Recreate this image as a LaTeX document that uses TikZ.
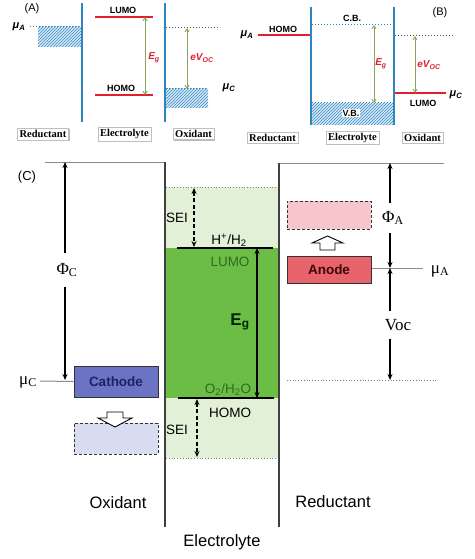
\documentclass[tikz,border=0pt]{standalone}
\usepackage{fontspec}
\setmainfont{Liberation Serif}
\setsansfont{Liberation Sans}
\usetikzlibrary{arrows.meta,patterns,shadows}
\definecolor{bluel}{HTML}{2E86C1}
\definecolor{redl}{HTML}{E02030}
\definecolor{garr}{HTML}{8CA35A}
\definecolor{hatchc}{HTML}{3A8CC8}
\definecolor{hatchbg}{HTML}{D6E8F5}
\definecolor{lgreen}{HTML}{E2F0D8}
\definecolor{dgreen}{HTML}{6CBD45}
\definecolor{tgreen}{HTML}{2F6B1E}
\definecolor{cathf}{HTML}{6B73C4}
\definecolor{cathdl}{HTML}{D7DCF0}
\definecolor{cathtx}{HTML}{1C2266}
\definecolor{anodf}{HTML}{E8636C}
\definecolor{anoddl}{HTML}{F7C6CD}
\definecolor{anodtx}{HTML}{3A0A0A}
\definecolor{linegray}{HTML}{8A8A8A}
\definecolor{dkgray}{HTML}{404040}
\begin{document}
\begin{tikzpicture}[x=1pt,y=-1pt,
  bline/.style={draw=bluel, line width=1.3pt},
  rline/.style={draw=redl, line width=1.3pt},
  garrow/.style={draw=garr, line width=0.9pt, {Straight Barb[length=3pt,width=4pt]}-{Straight Barb[length=3pt,width=4pt]}},
  bdot/.style={draw=bluel, dotted, line width=1pt},
  kdot/.style={draw=black!70, dotted, line width=1pt},
  boxlab/.style={draw=gray!50, fill=white, font=\bfseries\fontsize{10.5}{12}\selectfont, inner sep=2pt,
     drop shadow={shadow xshift=1.2pt, shadow yshift=-1.2pt, fill=gray!55, opacity=1}},
  orblab/.style={font=\sffamily\bfseries\fontsize{9}{10}\selectfont, inner sep=0.5pt},
  redit/.style={text=redl, font=\sffamily\bfseries\itshape\fontsize{10}{11}\selectfont},
  mulab/.style={font=\sffamily\bfseries\itshape\fontsize{11}{12}\selectfont},
  ctext/.style={font=\sffamily\fontsize{16.5}{18}\selectfont},
  stext/.style={font=\sffamily\fontsize{13.5}{15}\selectfont, inner sep=0.5pt},
  gsym/.style={font=\fontsize{17}{19}\selectfont, inner sep=1pt},
  karrow/.style={line width=1.1pt, {Stealth[length=6pt,width=5pt]}-{Stealth[length=6pt,width=5pt]}},
  sarrow/.style={line width=1.3pt, dash pattern=on 4pt off 2.5pt, {Stealth[length=6pt,width=5pt]}-{Stealth[length=6pt,width=5pt]}},
  solidbox/.style={draw=black!80, line width=1pt, minimum width=84pt, inner sep=0pt, font=\sffamily\bfseries\fontsize{13.5}{15}\selectfont},
  dashbox/.style={draw=black!80, line width=1pt, dash pattern=on 3pt off 2pt, minimum width=84pt, inner sep=0pt},
  hollow/.style={draw=black, line width=0.9pt, fill=white}
]
\useasboundingbox (0,0) rectangle (474,559);

% ================= Panel A =================
\node[font=\sffamily\fontsize{11}{12}\selectfont] (labA) at (32,9) {(A)};
\fill[hatchbg] (38,27) rectangle (82,47);
\fill[pattern=north east lines, pattern color=hatchc] (38,27) rectangle (82,47);
\coordinate (aDotL) at (30,27);
\coordinate (aDotR) at (82,27);
\draw[bdot] (aDotL) -- (aDotR);
\node[mulab] (muAa) at (19,27) {μ\textsubscript{A}};
\coordinate (aV1t) at (82,3); \coordinate (aV1b) at (82,122);
\coordinate (aV2t) at (165,3); \coordinate (aV2b) at (165,122);
\draw[bline] (aV1t) -- (aV1b);
\draw[bline] (aV2t) -- (aV2b);
\coordinate (aLl) at (95,17); \coordinate (aLr) at (153,17);
\coordinate (aHl) at (95,95); \coordinate (aHr) at (153,95);
\draw[rline] (aLl) -- (aLr);
\draw[rline] (aHl) -- (aHr);
\node[orblab] (aLUMO) at (123,10) {LUMO};
\node[orblab] (aHOMO) at (121,88.5) {HOMO};
\coordinate (aEgT) at (145,17); \coordinate (aEgB) at (145,95);
\draw[garrow] (aEgT) -- (aEgB);
\node[redit] (aEg) at (154,58) {E\textsubscript{g}};
\coordinate (aOxL) at (166,28); \coordinate (aOxR) at (220,28);
\draw[kdot] (aOxL) -- (aOxR);
\fill[hatchbg] (166,89) rectangle (208,108);
\fill[pattern=north east lines, pattern color=hatchc] (166,89) rectangle (208,108);
\coordinate (aCl) at (166,89); \coordinate (aCr) at (208,89);
\draw[bdot] (aCl) -- (aCr);
\coordinate (aVt) at (187,28); \coordinate (aVb) at (187,89);
\draw[garrow] (aVt) -- (aVb);
\node[redit] (aeV) at (202,58) {eV\textsubscript{OC}};
\node[mulab] (muCa) at (229,88) {μ\textsubscript{C}};
\node[boxlab] (aRed) at (43,134) {Reductant};
\node[boxlab] (aEle) at (124.5,134) {Electrolyte};
\node[boxlab] (aOxi) at (193.5,134) {Oxidant};

% ================= Panel B =================
\node[font=\sffamily\fontsize{11}{12}\selectfont] (labB) at (440,13) {(B)};
\node[mulab] (muAb) at (247,35) {μ\textsubscript{A}};
\coordinate (bHl) at (258,35); \coordinate (bHr) at (311,35);
\draw[rline] (bHl) -- (bHr);
\node[orblab] (bHOMO) at (283,29) {HOMO};
\fill[hatchbg] (312,103) rectangle (393,125);
\fill[pattern=north east lines, pattern color=hatchc] (312,103) rectangle (393,125);
\coordinate (bCBl) at (312,25); \coordinate (bCBr) at (393,25);
\coordinate (bVBl) at (312,103); \coordinate (bVBr) at (393,103);
\draw[bdot] (bCBl) -- (bCBr);
\draw[bdot] (bVBl) -- (bVBr);
\coordinate (bV1t) at (311,7); \coordinate (bV1b) at (311,125);
\coordinate (bV2t) at (394,7); \coordinate (bV2b) at (394,125);
\draw[bline] (bV1t) -- (bV1b);
\draw[bline] (bV2t) -- (bV2b);
\node[orblab] (bCB) at (352,18) {C.B.};
\node[orblab, fill=white, inner sep=1pt] (bVB) at (351,113) {V.B.};
\coordinate (bEgT) at (374,25); \coordinate (bEgB) at (374,103);
\draw[garrow] (bEgT) -- (bEgB);
\node[redit] (bEg) at (381,64) {E\textsubscript{g}};
\coordinate (bOxL) at (395,36); \coordinate (bOxR) at (455,36);
\draw[kdot] (bOxL) -- (bOxR);
\coordinate (bLl) at (395,93); \coordinate (bLr) at (446,93);
\draw[rline] (bLl) -- (bLr);
\coordinate (bVt) at (415,36); \coordinate (bVb) at (415,93);
\draw[garrow] (bVt) -- (bVb);
\node[redit] (beV) at (429,65) {eV\textsubscript{OC}};
\node[orblab] (bLUMO) at (423,103) {LUMO};
\node[mulab] (muCb) at (456,95) {μ\textsubscript{C}};
\node[boxlab] (bRed) at (272.5,137.5) {Reductant};
\node[boxlab] (bEle) at (352.5,137.5) {Electrolyte};
\node[boxlab] (bOxi) at (422.5,137.5) {Oxidant};

% ================= Panel C =================
\node[font=\sffamily\fontsize{13}{14}\selectfont] (labC) at (27,177) {(C)};
% electrolyte bands
\fill[lgreen] (165,187) rectangle (279,458);
\fill[dgreen] (165,248) rectangle (279,398);
\coordinate (eTopL) at (166,187); \coordinate (eTopR) at (278,187);
\coordinate (eBotL) at (166,458); \coordinate (eBotR) at (278,458);
\draw[draw=gray, dotted, line width=0.8pt] (eTopL) -- (eTopR);
\draw[draw=gray, dotted, line width=0.8pt] (eBotL) -- (eBotR);
% boundary lines
\coordinate (topL) at (45,162); \coordinate (cornL) at (165,162); \coordinate (botL) at (165,527);
\coordinate (cornR) at (279,163); \coordinate (topR) at (444,163); \coordinate (botR) at (279,527);
\draw[draw=linegray, line width=1pt] (topL) -- (cornL);
\draw[draw=linegray, line width=1pt] (cornR) -- (topR);
\draw[draw=dkgray, line width=1.1pt] (cornL) -- (botL);
\draw[draw=dkgray, line width=1.1pt] (cornR) -- (botR);
% redox levels
\coordinate (hL) at (177,248); \coordinate (hR) at (273,248);
\coordinate (oL) at (178,398); \coordinate (oR) at (274,398);
\draw[line width=1.2pt] (hL) -- (hR);
\draw[line width=1.2pt] (oL) -- (oR);
\node[stext] (hh) at (229,240) {H\textsuperscript{+}/H\textsubscript{2}};
\node[stext, text=tgreen] (lumo) at (230,262) {LUMO};
\node[stext, text=tgreen] (o2) at (228,390) {O\textsubscript{2}/H\textsubscript{2}O};
\node[stext] (homo) at (230,413) {HOMO};
% SEI arrows
\coordinate (s1t) at (194,188); \coordinate (s1b) at (194,247);
\coordinate (s2t) at (197,399); \coordinate (s2b) at (197,457);
\draw[sarrow] (s1t) -- (s1b);
\draw[sarrow] (s2t) -- (s2b);
\node[stext] (sei1) at (177,218) {SEI};
\node[stext] (sei2) at (177,430) {SEI};
% Eg arrow
\coordinate (egT) at (257,248); \coordinate (egB) at (257,398);
\draw[karrow] (egT) -- (egB);
\node[font=\sffamily\bfseries\fontsize{17}{19}\selectfont, text=black!85!green] (eg) at (240,322) {E\textsubscript{g}};
% cathode side
\node[solidbox, fill=cathf, text=cathtx, minimum height=31pt] (cath) at (116,381.5) {Cathode};
\node[dashbox, fill=cathdl, minimum height=31pt] (cathd) at (116,438.5) {};
\draw[hollow] (107,412) -- (123,412) -- (123,418) -- (132,418) -- (115,427) -- (98,418) -- (107,418) -- cycle;
\node[gsym] (muC) at (28,382) {μ\textsubscript{C}};
\coordinate (muCl) at (40,381);
\draw[draw=linegray, line width=1pt] (muCl) -- (cath.west);
\coordinate (phiCt) at (65,162); \coordinate (phiCb) at (65,380);
\draw[karrow] (phiCt) -- (phiCb);
\node[gsym, fill=white, inner ysep=10pt] (phiC) at (67,270) {Φ\textsubscript{C}};
\node[ctext] (oxi) at (118,503) {Oxidant};
% anode side
\node[solidbox, fill=anodf, text=anodtx, minimum height=27pt] (anod) at (329,269.5) {Anode};
\node[dashbox, fill=anoddl, minimum height=28pt] (anodd) at (329,215) {};
\draw[hollow] (320,250) -- (335,250) -- (335,243) -- (343,243) -- (327.5,236) -- (312,243) -- (320,243) -- cycle;
\coordinate (muAr) at (423,268);
\draw[draw=linegray, line width=1pt] (anod.east |- muAr) -- (muAr);
\node[gsym] (muA) at (440,271) {μ\textsubscript{A}};
\coordinate (phiAt) at (390,163); \coordinate (phiAb) at (390,268);
\coordinate (vocB) at (390,380);
\draw[karrow] (phiAt) -- (phiAb);
\draw[karrow] (phiAb) -- (vocB);
\node[gsym, fill=white, inner ysep=8pt] (phiA) at (393,218) {Φ\textsubscript{A}};
\node[gsym, fill=white, inner ysep=8pt] (voc) at (398,325) {Voc};
\coordinate (vdL) at (287,380); \coordinate (vdR) at (437,380);
\draw[draw=gray, dotted, line width=0.8pt] (vdL) -- (vdR);
\node[ctext] (red) at (333,502) {Reductant};
\node[ctext] (ele) at (222,542) {Electrolyte};
\end{tikzpicture}
\end{document}
